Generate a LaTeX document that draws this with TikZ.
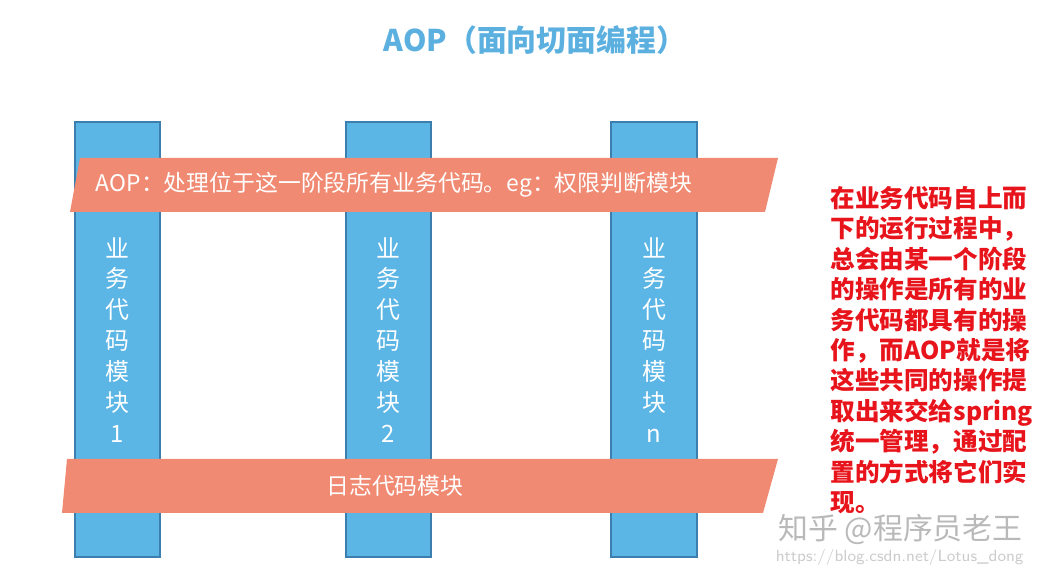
\documentclass[tikz,border=0pt]{standalone}
\usepackage{fontspec}
\newfontfamily\cjk{Noto Sans CJK SC}
\definecolor{barblue}{HTML}{5BB5E5}
\definecolor{barline}{HTML}{3C7FAE}
\definecolor{band}{HTML}{F08A72}
\definecolor{titleblue}{HTML}{5BB0E0}
\definecolor{redtxt}{HTML}{E8141C}
\begin{document}
\begin{tikzpicture}[x=0.01cm,y=-0.01cm,
  bar/.style={draw=barline,line width=0.5pt,fill=barblue},
  bartext/.style={text=white,font=\cjk\fontsize{6.8}{8.8}\selectfont,align=center},
  bandtext/.style={text=white,font=\cjk\fontsize{6.5}{7.5}\selectfont},
  red/.style={text=redtxt,font=\cjk\bfseries\fontsize{7}{8.65}\selectfont,align=left,anchor=north west}]
\useasboundingbox (0,0) rectangle (1059,577);
\node[font=\cjk\bfseries\fontsize{8.5}{10}\selectfont,text=titleblue] (title) at (535,40) {AOP（面向切面编程）};
\path[bar] (75,122) rectangle (160,557) coordinate (b1);
\path[bar] (346,122) rectangle (431,557) coordinate (b2);
\path[bar] (611,122) rectangle (697,557) coordinate (b3);
\path[fill=band] (80,158) -- (778,158) -- (765,212) -- (70,212) -- cycle;
\path[fill=band] (67,459) -- (778,459) -- (763,513) -- (62,513) -- cycle;
\node[bandtext] (t1) at (394,185) {AOP：处理位于这一阶段所有业务代码。eg：权限判断模块};
\node[bandtext] (t2) at (395,486) {日志代码模块};
\node[bartext] (m1) at (117.5,340) {业\\务\\代\\码\\模\\块\\1};
\node[bartext] (m2) at (388.5,340) {业\\务\\代\\码\\模\\块\\2};
\node[bartext] (m3) at (654,340) {业\\务\\代\\码\\模\\块\\n};
\node[red] (note) at (818,174) {在业务代码自上而\\下的运行过程中，\\总会由某一个阶段\\的操作是所有的业\\务代码都具有的操\\作，而AOP就是将\\这些共同的操作提\\取出来交给spring\\统一管理，通过配\\置的方式将它们实\\现。};
\node[text=gray!55,font=\cjk\fontsize{8.5}{10}\selectfont,anchor=west] (wm) at (766,529) {知乎 @程序员老王};
\node[text=gray!40,font=\fontsize{4.6}{5}\selectfont\sffamily,anchor=east] (url) at (1036,557) {https://blog.csdn.net/Lotus\_dong};
\end{tikzpicture}
\end{document}
